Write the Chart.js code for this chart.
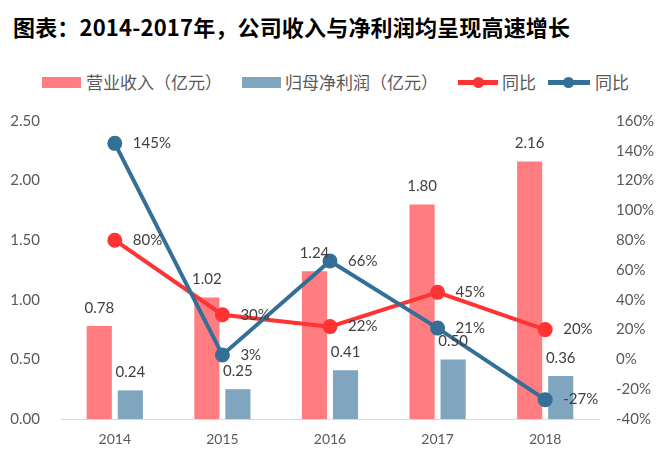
<!DOCTYPE html>
<html><head><meta charset="utf-8">
<script src="https://cdn.jsdelivr.net/npm/chart.js@4/dist/chart.umd.min.js"></script>
<style>
html,body{margin:0;padding:0;background:#fff;}
#wrap{position:relative;width:667px;height:449px;overflow:hidden;}
#title{position:absolute;left:13px;top:13px;font:bold 22px/26px "Noto Sans CJK SC",sans-serif;color:#000;white-space:nowrap;}
.t{position:absolute;top:72px;font:17px/20px "Noto Sans CJK SC",sans-serif;color:#595959;white-space:nowrap;}
.box{position:absolute;top:77px;width:39px;height:11px;}
.ln{position:absolute;top:80px;height:5px;}
.dot{position:absolute;top:77px;width:11px;height:11px;border-radius:50%;}
canvas{position:absolute;left:0;top:0;}
</style></head>
<body><div id="wrap">
<div id="title">图表：2014-2017年，公司收入与净利润均呈现高速增长</div>
<div class="box" style="left:42px;background:#FF7C80"></div><div class="t" style="left:86px">营业收入（亿元）</div>
<div class="box" style="left:242px;background:#7FA5BF"></div><div class="t" style="left:285px">归母净利润（亿元）</div>
<div class="ln" style="left:458px;width:40px;background:#FF3333"></div><div class="dot" style="left:473px;background:#FF3333"></div><div class="t" style="left:502px">同比</div>
<div class="ln" style="left:548px;width:42px;background:#336F96"></div><div class="dot" style="left:563px;background:#336F96"></div><div class="t" style="left:595px">同比</div>
<canvas id="c" width="667" height="449"></canvas>
</div>
<script>
const categories = ['2014','2015','2016','2017','2018'];
const revenue = [0.78, 1.02, 1.24, 1.80, 2.16];
const netProfit = [0.24, 0.25, 0.41, 0.50, 0.36];
const revenueGrowth = [80, 30, 22, 45, 20];
const profitGrowth = [145, 3, 66, 21, -27];
const seriesNames = ['营业收入（亿元）','归母净利润（亿元）','同比','同比'];

// fit title to reference width
(function(){
  const t = document.getElementById('title');
  const target = 557;
  const w = t.getBoundingClientRect().width;
  const n = t.textContent.length;
  t.style.letterSpacing = ((target - w) / (n - 1)) + 'px';
})();

const labelPlugin = {
  id: 'dl',
  afterDatasetsDraw(chart) {
    const ctx = chart.ctx;
    ctx.save();
    ctx.font = '15px Lato, "Noto Sans CJK SC", sans-serif';
    ctx.fillStyle = '#404040';
    chart.data.datasets.forEach((ds, i) => {
      const meta = chart.getDatasetMeta(i);
      meta.data.forEach((el, j) => {
        const v = ds.data[j];
        ctx.textBaseline = 'middle';
        if (ds.type === 'bar') {
          ctx.textAlign = 'center';
          ctx.fillText(v.toFixed(2), el.x, el.y - 18);
        } else {
          ctx.textAlign = 'left';
          ctx.fillText(v + '%', el.x + 18, el.y);
        }
      });
    });
    ctx.restore();
  }
};

const fam = 'Lato, "Noto Sans CJK SC", sans-serif';
new Chart(document.getElementById('c'), {
  data: {
    labels: categories,
    datasets: [
      {type:'line', label: seriesNames[3], data: profitGrowth, yAxisID:'y2', borderColor:'#336F96', backgroundColor:'#336F96', borderWidth:4, pointRadius:5.5, pointHoverRadius:5.5, order:0},
      {type:'line', label: seriesNames[2], data: revenueGrowth, yAxisID:'y2', borderColor:'#FF3333', backgroundColor:'#FF3333', borderWidth:4, pointRadius:5.5, pointHoverRadius:5.5, order:1},
      {type:'bar', label: seriesNames[0], data: revenue, yAxisID:'y', backgroundColor:'#FF7C80', order:2, categoryPercentage:0.577, barPercentage:0.81},
      {type:'bar', label: seriesNames[1], data: netProfit, yAxisID:'y', backgroundColor:'#7FA5BF', order:3, categoryPercentage:0.577, barPercentage:0.81}
    ]
  },
  options: {
    responsive:false, animation:false,
    layout:{padding:{top:121, left:0, right:0, bottom:0}},
    plugins:{legend:{display:false}, title:{display:false}, tooltip:{enabled:false}},
    scales:{
      x:{
        grid:{display:false, drawTicks:false},
        border:{display:true, color:'#D9D9D9', width:1},
        ticks:{color:'#595959', font:{family:fam, size:14}, padding:12},
        afterFit(s){ s.height = 29; }
      },
      y:{
        position:'left', min:0, max:2.5,
        grid:{display:false, drawTicks:false},
        border:{display:false},
        ticks:{stepSize:0.5, color:'#595959', font:{family:fam, size:15}, padding:21, callback:v=>Number(v).toFixed(2)},
        afterFit(s){ s.width = 61; }
      },
      y2:{
        position:'right', min:-40, max:160,
        grid:{display:false, drawTicks:false},
        border:{display:false},
        ticks:{stepSize:20, color:'#595959', font:{family:fam, size:15}, padding:17, callback:v=>v+'%'},
        afterFit(s){ s.width = 68; }
      }
    }
  },
  plugins:[labelPlugin]
});
</script>
</body></html>
